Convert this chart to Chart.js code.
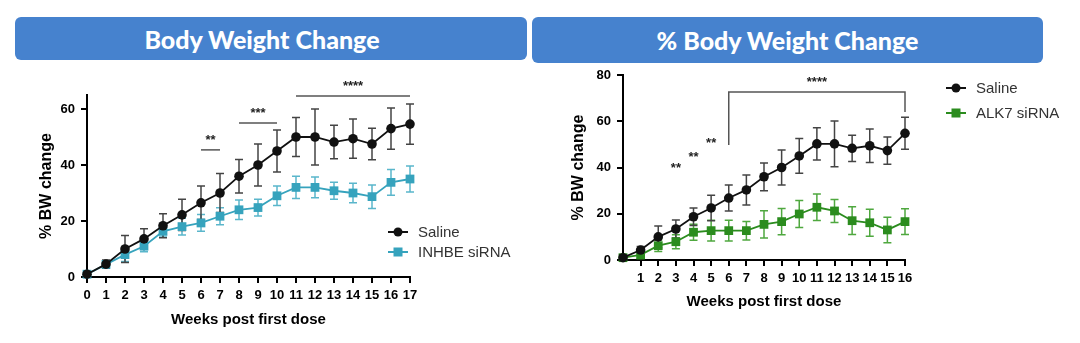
<!DOCTYPE html>
<html>
<head>
<meta charset="utf-8">
<script src="https://cdn.jsdelivr.net/npm/chart.js@4.4.1/dist/chart.umd.min.js"></script>
<style>
    body { margin: 0; width: 1080px; height: 343px; background: #fff; position: relative; overflow: hidden; }
    .header {
        position: absolute; background: #4682ce; border-radius: 6px; color: #fff;
        font: 900 25px Lato, "DejaVu Sans", sans-serif; display: flex; align-items: center;
        justify-content: center; z-index: 2; box-sizing: border-box;
    }
    canvas { position: absolute; top: 0; }
</style>
</head>
<body>
<div class="header" style="left:15px; top:17px; width:512px; height:43px; padding-right:18px;">Body Weight Change</div>
<div class="header" style="left:532px; top:17px; width:511px; height:46px;">% Body Weight Change</div>
<canvas id="bwChart" style="left:0" width="530" height="343"></canvas>
<canvas id="pctChart" style="left:532px" width="548" height="343"></canvas>

<script>
// left panel: INHBE siRNA vs saline, weeks 0-17
const weeksLeft = [0, 1, 2, 3, 4, 5, 6, 7, 8, 9, 10, 11, 12, 13, 14, 15, 16, 17];
const salineLeft = [1, 4.6, 10, 13.6, 18.3, 22.2, 26.5, 30, 36, 40, 45, 50, 50, 48.2, 49.4, 47.5, 53, 54.6];
const salineLeftErr = [0.8, 1.5, 4.8, 3.6, 4.3, 5.6, 6, 7, 6, 7.5, 7.5, 7, 10, 6, 7, 5.6, 7.4, 7.2];
const inhbe = [1, 4.5, 8, 11, 16.3, 18, 19.3, 21.7, 24, 24.8, 29, 32, 32, 30.8, 30, 28.7, 33.8, 35];
const inhbeErr = [0.5, 1.2, 2.5, 2, 2, 3, 3, 3, 3.5, 3, 3.5, 4, 3.7, 3, 3.5, 4.2, 4.6, 4.6];
const yTicksLeft = [0, 20, 40, 60];

// right panel: ALK7 siRNA vs saline, weeks 0-16
const weeksRight = [0, 1, 2, 3, 4, 5, 6, 7, 8, 9, 10, 11, 12, 13, 14, 15, 16];
const xTicksRight = [1, 2, 3, 4, 5, 6, 7, 8, 9, 10, 11, 12, 13, 14, 15, 16];
const salineRight = [1, 4.3, 10, 13.4, 18.7, 22.5, 26.8, 30.3, 36, 40, 45, 50.2, 50.2, 48.3, 49.4, 47.3, 54.8];
const salineRightErr = [0.8, 1.5, 4.7, 3.9, 3.8, 5.5, 5.6, 6.5, 6, 7.6, 7.5, 7, 9.9, 5.7, 7.2, 5.9, 6.9];
const alk7 = [1, 2.2, 6.2, 7.9, 12, 12.7, 12.7, 12.7, 15.4, 16.6, 19.9, 22.8, 21.2, 17, 16.1, 13, 16.6];
const alk7Err = [0.5, 1.5, 2.5, 3, 3.5, 4.5, 4.5, 4, 5.9, 5.7, 5.8, 5.7, 5, 6, 5.8, 5.5, 5.6];
const yTicksRight = [0, 20, 40, 60, 80];

// significance marks, in data units
const sigLeft = [
    { path: [[6, 45.4], [7, 45.4]], label: "**", at: [6.5, 48.8] },
    { path: [[8, 55], [10, 55]], label: "***", at: [9, 58.4] },
    { path: [[11, 64.6], [17, 64.6]], label: "****", at: [14, 68.2] }
];
const sigRight = [
    { path: [], label: "**", at: [3, 39.4] },
    { path: [], label: "**", at: [4, 44.5] },
    { path: [], label: "**", at: [5, 50.2] },
    { path: [[6, 49.7], [6, 72.6], [16, 72.6], [16, 64]], label: "****", at: [11, 76.8] }
];

Chart.defaults.font.family = "'Liberation Sans', Arial, sans-serif";

function points(xs, ys) {
    return xs.map(function (x, i) { return { x: x, y: ys[i] }; });
}

const errorBars = {
    id: "errorBars",
    beforeDatasetsDraw(chart) {
        const ctx = chart.ctx;
        const xs = chart.scales.x, ys = chart.scales.y;
        chart.data.datasets.slice().reverse().forEach(function (ds) {
            ctx.save();
            ctx.strokeStyle = ds.errorColor;
            ctx.lineWidth = 1.5;
            ds.data.forEach(function (p, j) {
                const e = ds.errors[j];
                const px = xs.getPixelForValue(p.x);
                const top = ys.getPixelForValue(p.y + e);
                const bot = ys.getPixelForValue(p.y - e);
                ctx.beginPath();
                ctx.moveTo(px, top); ctx.lineTo(px, bot);
                ctx.moveTo(px - 4, top); ctx.lineTo(px + 4, top);
                ctx.moveTo(px - 4, bot); ctx.lineTo(px + 4, bot);
                ctx.stroke();
            });
            ctx.restore();
        });
    }
};

const sigMarks = {
    id: "sigMarks",
    afterDraw(chart, args, opts) {
        const ctx = chart.ctx;
        const xs = chart.scales.x, ys = chart.scales.y;
        ctx.save();
        ctx.strokeStyle = "#555";
        ctx.lineWidth = 1.5;
        ctx.fillStyle = "#222";
        ctx.font = "bold 13px 'Liberation Sans', Arial";
        ctx.textAlign = "center";
        ctx.textBaseline = "middle";
        opts.marks.forEach(function (m) {
            if (m.path.length) {
                ctx.beginPath();
                m.path.forEach(function (p, i) {
                    const px = xs.getPixelForValue(p[0]), py = ys.getPixelForValue(p[1]);
                    if (i === 0) ctx.moveTo(px, py); else ctx.lineTo(px, py);
                });
                ctx.stroke();
            }
            ctx.fillText(m.label, xs.getPixelForValue(m.at[0]), ys.getPixelForValue(m.at[1]));
        });
        ctx.restore();
    }
};

const sideLegend = {
    id: "sideLegend",
    afterDraw(chart, args, opts) {
        const ctx = chart.ctx;
        ctx.save();
        ctx.font = "15px 'Liberation Sans', Arial";
        ctx.textBaseline = "middle";
        ctx.textAlign = "left";
        chart.data.datasets.forEach(function (ds, i) {
            const y = opts.y + i * opts.gap;
            const cx = opts.x + 10;
            ctx.strokeStyle = ds.borderColor;
            ctx.lineWidth = 2;
            ctx.beginPath();
            ctx.moveTo(opts.x, y); ctx.lineTo(opts.x + 20, y);
            ctx.stroke();
            ctx.fillStyle = ds.pointBackgroundColor;
            if (ds.pointStyle === "rect") {
                ctx.fillRect(cx - 4.5, y - 4.5, 9, 9);
            } else {
                ctx.beginPath();
                ctx.arc(cx, y, 4.5, 0, Math.PI * 2);
                ctx.fill();
            }
            ctx.fillStyle = "#333";
            ctx.fillText(ds.label, opts.x + 30, y + 1);
        });
        ctx.restore();
    }
};

function lineSet(label, xs, ys, errs, color, errColor, style) {
    return {
        label: label,
        data: points(xs, ys),
        errors: errs,
        errorColor: errColor,
        borderColor: color,
        borderWidth: 1.8,
        pointStyle: style,
        pointRadius: style === "rect" ? 6.2 : 4.8,
        pointBackgroundColor: color,
        pointBorderColor: color,
        pointBorderWidth: 0,
        clip: false,
        tension: 0
    };
}

function axisX(min, max, tickList, axisHeight, titlePad) {
    return {
        type: "linear", min: min, max: max,
        afterBuildTicks: function (s) { s.ticks = tickList.map(function (v) { return { value: v }; }); },
        afterFit: function (s) { s.height = axisHeight; },
        grid: { display: true, drawOnChartArea: false, drawTicks: true, tickLength: 6, color: "#000", lineWidth: 2 },
        border: { display: true, color: "#000", width: 2 },
        ticks: { color: "#000", font: { size: 13, weight: "bold" }, padding: 5, maxRotation: 0, autoSkip: false },
        title: { display: true, text: "Weeks post first dose", color: "#000", font: { size: 15, weight: "bold" }, padding: { top: 0, bottom: titlePad } }
    };
}

function axisY(max, tickList, axisWidth, titlePad) {
    return {
        min: 0, max: max,
        afterBuildTicks: function (s) { s.ticks = tickList.map(function (v) { return { value: v }; }); },
        afterFit: function (s) { s.width = axisWidth; },
        grid: { display: true, drawOnChartArea: false, drawTicks: true, tickLength: 6, color: "#000", lineWidth: 2 },
        border: { display: true, color: "#000", width: 2 },
        ticks: { color: "#000", font: { size: 13, weight: "bold" }, padding: 6 },
        title: { display: true, text: "% BW change", color: "#000", font: { size: 16, weight: "bold" }, padding: { top: titlePad, bottom: 0 } }
    };
}

function createChart(canvasId, config) {
    const ctx = document.getElementById(canvasId);
    if (ctx) {
        return new Chart(ctx, config);
    } else {
        console.error(`Canvas element with id '${canvasId}' not found.`);
    }
}

createChart("bwChart", {
    type: "line",
    data: {
        datasets: [
            lineSet("Saline", weeksLeft, salineLeft, salineLeftErr, "#111", "#444", "circle"),
            lineSet("INHBE siRNA", weeksLeft, inhbe, inhbeErr, "#36a3bd", "#5ab6cb", "rect")
        ]
    },
    options: {
        responsive: false,
        animation: false,
        layout: { padding: { left: 0, right: 120, top: 95, bottom: 0 } },
        scales: {
            x: axisX(0, 17, weeksLeft, 66, 14),
            y: axisY(65, yTicksLeft, 87, 37)
        },
        plugins: {
            legend: { display: false },
            tooltip: { enabled: false },
            sigMarks: { marks: sigLeft },
            sideLegend: { x: 388, y: 232, gap: 20 }
        }
    },
    plugins: [errorBars, sigMarks, sideLegend]
});

createChart("pctChart", {
    type: "line",
    data: {
        datasets: [
            lineSet("Saline", weeksRight, salineRight, salineRightErr, "#111", "#444", "circle"),
            lineSet("ALK7 siRNA", weeksRight, alk7, alk7Err, "#2b8c1e", "#4fa83f", "rect")
        ]
    },
    options: {
        responsive: false,
        animation: false,
        layout: { padding: { left: 0, right: 175, top: 75, bottom: 0 } },
        scales: {
            x: axisX(0, 16, xTicksRight, 83, 32),
            y: axisY(80, yTicksRight, 91, 37)
        },
        plugins: {
            legend: { display: false },
            tooltip: { enabled: false },
            sigMarks: { marks: sigRight },
            sideLegend: { x: 414, y: 88, gap: 25 }
        }
    },
    plugins: [errorBars, sigMarks, sideLegend]
});
</script>
</body>
</html>
